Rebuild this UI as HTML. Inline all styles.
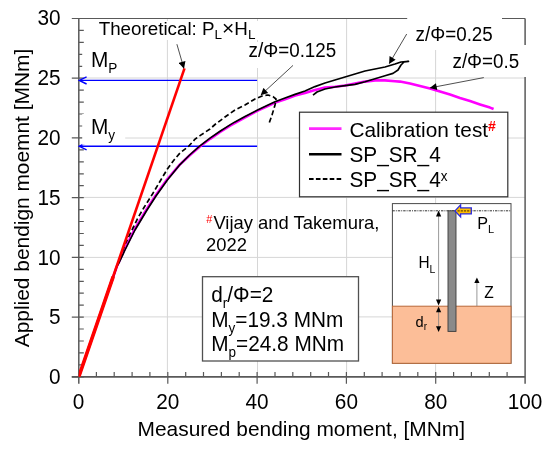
<!DOCTYPE html>
<html><head><meta charset="utf-8"><title>Bending moment chart</title>
<style>html,body{margin:0;padding:0;background:#fff}body{width:550px;height:453px;overflow:hidden}svg{display:block}text{font-family:"Liberation Sans",Arial,Helvetica,sans-serif;fill:#000}</style>
</head><body>
<svg width="550" height="453" viewBox="0 0 550 453">
<rect width="550" height="453" fill="#fff"/>
<g stroke="#d6d6d6" stroke-width="1" fill="none">
<line x1="167.4" y1="18.5" x2="167.4" y2="376.8"/>
<line x1="257.5" y1="18.5" x2="257.5" y2="376.8"/>
<line x1="346.6" y1="18.5" x2="346.6" y2="376.8"/>
<line x1="435.6" y1="18.5" x2="435.6" y2="376.8"/>
<line x1="78.8" y1="316.9" x2="525.1" y2="316.9"/>
<line x1="78.8" y1="257.4" x2="525.1" y2="257.4"/>
<line x1="78.8" y1="197.4" x2="525.1" y2="197.4"/>
<line x1="78.8" y1="138.0" x2="525.1" y2="138.0"/>
<line x1="78.8" y1="78.0" x2="525.1" y2="78.0"/>
</g>
<g stroke="#595959" fill="none">
<line x1="78.8" y1="18.5" x2="525.1" y2="18.5" stroke-width="1.2"/>
<line x1="525.1" y1="18.5" x2="525.1" y2="383.8" stroke-width="1.5"/>
<line x1="78.8" y1="18.5" x2="78.8" y2="383.8" stroke-width="1.5"/>
<line x1="71.8" y1="376.8" x2="525.1" y2="376.8" stroke-width="1.8"/>
<path d="M96.4 372.0V376.8M114.2 372.0V376.8M132.1 372.0V376.8M149.9 372.0V376.8M167.8 372.0V383.8M185.7 372.0V376.8M203.5 372.0V376.8M221.4 372.0V376.8M239.2 372.0V376.8M257.1 372.0V383.8M275.0 372.0V376.8M292.8 372.0V376.8M310.7 372.0V376.8M328.5 372.0V376.8M346.4 372.0V383.8M364.3 372.0V376.8M382.1 372.0V376.8M400.0 372.0V376.8M417.8 372.0V376.8M435.7 372.0V383.8M453.6 372.0V376.8M471.4 372.0V376.8M489.3 372.0V376.8M507.1 372.0V376.8M71.8 376.8H83.8M78.8 364.9H83.8M78.8 352.9H83.8M78.8 341.0H83.8M78.8 329.0H83.8M71.8 317.1H83.8M78.8 305.1H83.8M78.8 293.2H83.8M78.8 281.3H83.8M78.8 269.3H83.8M71.8 257.4H83.8M78.8 245.4H83.8M78.8 233.5H83.8M78.8 221.5H83.8M78.8 209.6H83.8M71.8 197.7H83.8M78.8 185.7H83.8M78.8 173.8H83.8M78.8 161.8H83.8M78.8 149.9H83.8M71.8 137.9H83.8M78.8 126.0H83.8M78.8 114.0H83.8M78.8 102.1H83.8M78.8 90.2H83.8M71.8 78.2H83.8M78.8 66.3H83.8M78.8 54.3H83.8M78.8 42.4H83.8M78.8 30.4H83.8M71.8 18.5H83.8" stroke-width="1.2"/>
</g>
<g stroke="#0000ff" stroke-width="1.4" fill="none"><line x1="79.3" y1="80.4" x2="257.1" y2="80.4"/><path d="M86.6 76.8L79.3 80.4L86.6 84.0"/></g>
<g stroke="#0000ff" stroke-width="1.4" fill="none"><line x1="79.3" y1="146.3" x2="257.1" y2="146.3"/><path d="M86.6 142.7L79.3 146.3L86.6 149.9"/></g>
<polyline points="110.4,285.0 117.0,266.0 119.4,261.0 124.5,249.5 134.5,229.5 146.5,209.5 155.6,195.5 167.0,179.5 179.8,164.6 189.8,155.2 199.6,146.8 210.2,138.8 220.2,132.0 230.2,125.7 245.2,117.3 257.8,110.6 267.2,106.4 275.2,102.6 285.2,99.2 295.2,95.6 305.0,93.0 315.0,90.0 325.0,87.6 335.0,86.7 345.0,85.5 355.0,83.6 365.0,81.6 375.0,80.4 385.0,80.4 395.0,81.2 400.0,81.6 410.0,83.6 420.0,86.0 430.0,88.6 440.0,91.6 450.0,94.6 460.0,98.0 470.0,101.0 480.0,104.4 490.0,107.6 493.6,109.0" fill="none" stroke="#ff00ff" stroke-width="2.6" stroke-linejoin="round"/>
<polyline points="108.8,290.0 117.0,266.0 119.4,262.0 125.0,250.0 135.0,230.0 147.0,210.0 156.0,196.0 167.4,180.0 180.0,164.6 189.6,155.0 199.3,146.3 210.0,138.1 220.0,131.2 230.0,124.9 235.0,121.9 245.0,116.6 257.6,110.0 267.0,105.6 275.0,101.8 285.0,98.0 295.0,94.4 305.0,91.0 315.0,86.6 325.0,83.0 335.0,80.0 345.0,77.0 355.0,74.0 365.0,71.0 375.0,69.0 385.0,67.0 395.0,64.0 401.0,62.0 408.5,61.4 404.0,62.0 401.0,65.0 398.0,70.0 393.0,73.4 385.0,75.8 375.0,78.7 365.0,81.7 355.0,84.4 345.0,85.6 335.0,87.0 325.0,89.0 317.0,92.0 313.0,95.2" fill="none" stroke="#000" stroke-width="1.65" stroke-linejoin="round"/>
<polyline points="117.0,266.0 121.5,254.0 125.2,244.0 129.0,236.0 133.2,227.5 137.8,218.0 144.0,207.5 152.5,194.0 162.0,178.0 167.4,169.0 174.0,160.0 180.0,153.0 188.6,146.3 195.2,139.0 200.0,135.6 210.0,129.0 215.0,124.5 225.0,117.0 235.0,110.0 245.0,105.0 255.0,99.0 263.0,95.6 268.0,95.0 273.0,96.6 276.0,99.0 275.0,105.0 272.0,115.0 269.0,123.6" fill="none" stroke="#000" stroke-width="1.7" stroke-dasharray="5 2.8" stroke-linejoin="round"/>
<clipPath id="pc"><rect x="78.8" y="18.5" width="446.3" height="358.3"/></clipPath>
<line x1="77.8" y1="379.7" x2="184.5" y2="68.3" stroke="#ff0000" stroke-width="2.6" clip-path="url(#pc)"/>
<line x1="77.8" y1="379.7" x2="113.2" y2="276.6" stroke="#ff0000" stroke-width="3.6" clip-path="url(#pc)"/>
<g fill="#fff">
<rect x="95" y="21" width="165" height="19"/>
<rect x="245" y="42" width="100" height="26"/>
<rect x="407.2" y="12" width="94.8" height="38"/>
<rect x="82.2" y="46" width="43" height="29"/>
<rect x="82.2" y="114" width="43" height="30.8"/>
<rect x="446" y="45" width="95" height="32"/>
</g>
<defs><marker id="ah" viewBox="0 0 10 10" refX="9" refY="5" markerWidth="9" markerHeight="7" orient="auto" markerUnits="userSpaceOnUse"><path d="M0 0L10 5L0 10z" fill="#000"/></marker></defs>
<g stroke="#222" stroke-width="0.8" fill="none" marker-end="url(#ah)">
<line x1="176.9" y1="44.2" x2="183.8" y2="68"/>
<line x1="293" y1="65.4" x2="261.2" y2="94.7"/>
<line x1="406.7" y1="34" x2="389.4" y2="63.3"/>
<line x1="483.8" y1="77.6" x2="430.4" y2="87.8"/>
</g>
<text x="98.7" y="34.9" font-size="18.8">Theoretical: P<tspan font-size="13.5" dy="4.5">L</tspan><tspan dy="-4.5" font-size="21">×</tspan><tspan>H</tspan><tspan font-size="13.5" dy="4.5">L</tspan></text>
<text transform="translate(248.6,56.5) scale(1,1.03)" font-size="18.8">z/Φ=0.125</text>
<text transform="translate(415.6,40.9) scale(1,1.03)" font-size="18.8">z/Φ=0.25</text>
<text transform="translate(452.5,68.2) scale(1,1.03)" font-size="18.8">z/Φ=0.5</text>
<text transform="translate(91,67.2) scale(1,1.03)" font-size="20.8">M<tspan font-size="13.6" dy="5.5">P</tspan></text>
<text transform="translate(91,134.4) scale(1,1.03)" font-size="20.8">M<tspan font-size="13.6" dy="5.5">y</tspan></text>
<rect x="299.5" y="112.2" width="208.3" height="84.6" fill="#fff" stroke="#303030" stroke-width="1.2"/>
<line x1="309" y1="128.7" x2="341.5" y2="128.7" stroke="#ff28ff" stroke-width="2.8"/>
<line x1="309" y1="154.2" x2="341.5" y2="154.2" stroke="#000" stroke-width="2.5"/>
<line x1="309" y1="179" x2="341.5" y2="179" stroke="#000" stroke-width="1.8" stroke-dasharray="4.6 2.3"/>
<text x="349.4" y="136.8" font-size="20.8">Calibration test<tspan font-size="14" dy="-5.9" fill="#ff0000" font-weight="bold">#</tspan></text>
<text transform="translate(349.4,162.1) scale(1,1.03)" font-size="20.8">SP_SR_4</text>
<text transform="translate(349.4,187.0) scale(1,1.03)" font-size="20.8">SP_SR_4<tspan font-size="13.5" dy="-5.5">x</tspan></text>
<text x="206.3" y="228.7" font-size="18.4"><tspan font-size="11" dy="-5.8" fill="#ff0000">#</tspan><tspan dy="5.8" x="213.4">Vijay and Takemura,</tspan></text>
<text transform="translate(206,251.3) scale(1,1.03)" font-size="18.4">2022</text>
<rect x="202.5" y="276.7" width="156" height="84.3" fill="#fff" stroke="#505050" stroke-width="1.3"/>
<text transform="translate(211.2,301.8) scale(1,1.03)" font-size="20.8">d<tspan font-size="13.5" dy="5.8">r</tspan><tspan dy="-5.8">/Φ=2</tspan></text>
<text transform="translate(211.2,326.6) scale(1,1.03)" font-size="20.8">M<tspan font-size="13.5" dy="5.8">y</tspan><tspan dy="-5.8">=19.3 MNm</tspan></text>
<text transform="translate(211.2,351.3) scale(1,1.03)" font-size="20.8">M<tspan font-size="13.5" dy="5.8">p</tspan><tspan dy="-5.8">=24.8 MNm</tspan></text>
<rect x="392.4" y="203.6" width="118.6" height="159.7" fill="#fff" stroke="#4a4a4a" stroke-width="1"/>
<rect x="392.4" y="306.2" width="118.6" height="57.1" fill="#fcbe98" stroke="#b8693a" stroke-width="1"/>
<line x1="392.4" y1="210.8" x2="511" y2="210.8" stroke="#333" stroke-width="1" stroke-dasharray="2.4 1 1 1"/>
<rect x="448" y="210.8" width="8" height="120.6" fill="#8a8a8a" stroke="#3a3a3a" stroke-width="0.9"/>
<path d="M455 210.9L460.6 204.9V207.9H471.3V213.9H460.6V216.9z" fill="#ffc000" stroke="#2a2ae0" stroke-width="1.3" stroke-linejoin="miter"/>
<line x1="457.5" y1="210.9" x2="470.5" y2="210.9" stroke="#6b4300" stroke-width="1.1" stroke-dasharray="2.2 1"/>
<g stroke="#7f7f7f" stroke-width="0.8"><line x1="438.6" y1="214" x2="438.6" y2="302"/><line x1="438.6" y1="309" x2="438.6" y2="328"/><line x1="476.9" y1="282" x2="476.9" y2="306"/></g>
<g fill="#000"><path d="M438.6 210.6L436 216.4H441.2z"/><path d="M438.6 305.4L436 299.6H441.2z"/><path d="M438.6 306.4L436 312.2H441.2z"/><path d="M438.6 332L436 326.2H441.2z"/><path d="M476.9 277.4L474.3 283H479.5z"/></g>
<text transform="translate(477.2,229.1) scale(1,1.03)" font-size="16.2">P<tspan font-size="11" dy="3.3">L</tspan></text>
<text transform="translate(418.4,267.7) scale(1,1.03)" font-size="15.4">H<tspan font-size="10.5" dy="5.4">L</tspan></text>
<text transform="translate(484.2,297.5) scale(1,1.03)" font-size="15.6">Z</text>
<text transform="translate(415.6,326.9) scale(1,1.03)" font-size="14.6">d<tspan font-size="10" dy="3">r</tspan></text>
<text transform="translate(78.5,408.7) scale(1,1.03)" font-size="20.8" text-anchor="middle">0</text>
<text transform="translate(167.8,408.7) scale(1,1.03)" font-size="20.8" text-anchor="middle">20</text>
<text transform="translate(257.1,408.7) scale(1,1.03)" font-size="20.8" text-anchor="middle">40</text>
<text transform="translate(346.4,408.7) scale(1,1.03)" font-size="20.8" text-anchor="middle">60</text>
<text transform="translate(435.7,408.7) scale(1,1.03)" font-size="20.8" text-anchor="middle">80</text>
<text transform="translate(525.0,408.7) scale(1,1.03)" font-size="20.8" text-anchor="middle">100</text>
<text transform="translate(60.6,383.9) scale(1,1.03)" font-size="20.8" text-anchor="end">0</text>
<text transform="translate(60.6,324.2) scale(1,1.03)" font-size="20.8" text-anchor="end">5</text>
<text transform="translate(60.6,264.5) scale(1,1.03)" font-size="20.8" text-anchor="end">10</text>
<text transform="translate(60.6,204.8) scale(1,1.03)" font-size="20.8" text-anchor="end">15</text>
<text transform="translate(60.6,145.1) scale(1,1.03)" font-size="20.8" text-anchor="end">20</text>
<text transform="translate(60.6,85.4) scale(1,1.03)" font-size="20.8" text-anchor="end">25</text>
<text transform="translate(60.6,24.5) scale(1,1.03)" font-size="20.8" text-anchor="end">30</text>
<text x="301.3" y="436.4" font-size="20.9" text-anchor="middle">Measured bending moment, [MNm]</text>
<text transform="translate(29.4,198) rotate(-90)" font-size="20.9" text-anchor="middle">Applied bendign moemnt [MNm]</text>
</svg></body></html>
